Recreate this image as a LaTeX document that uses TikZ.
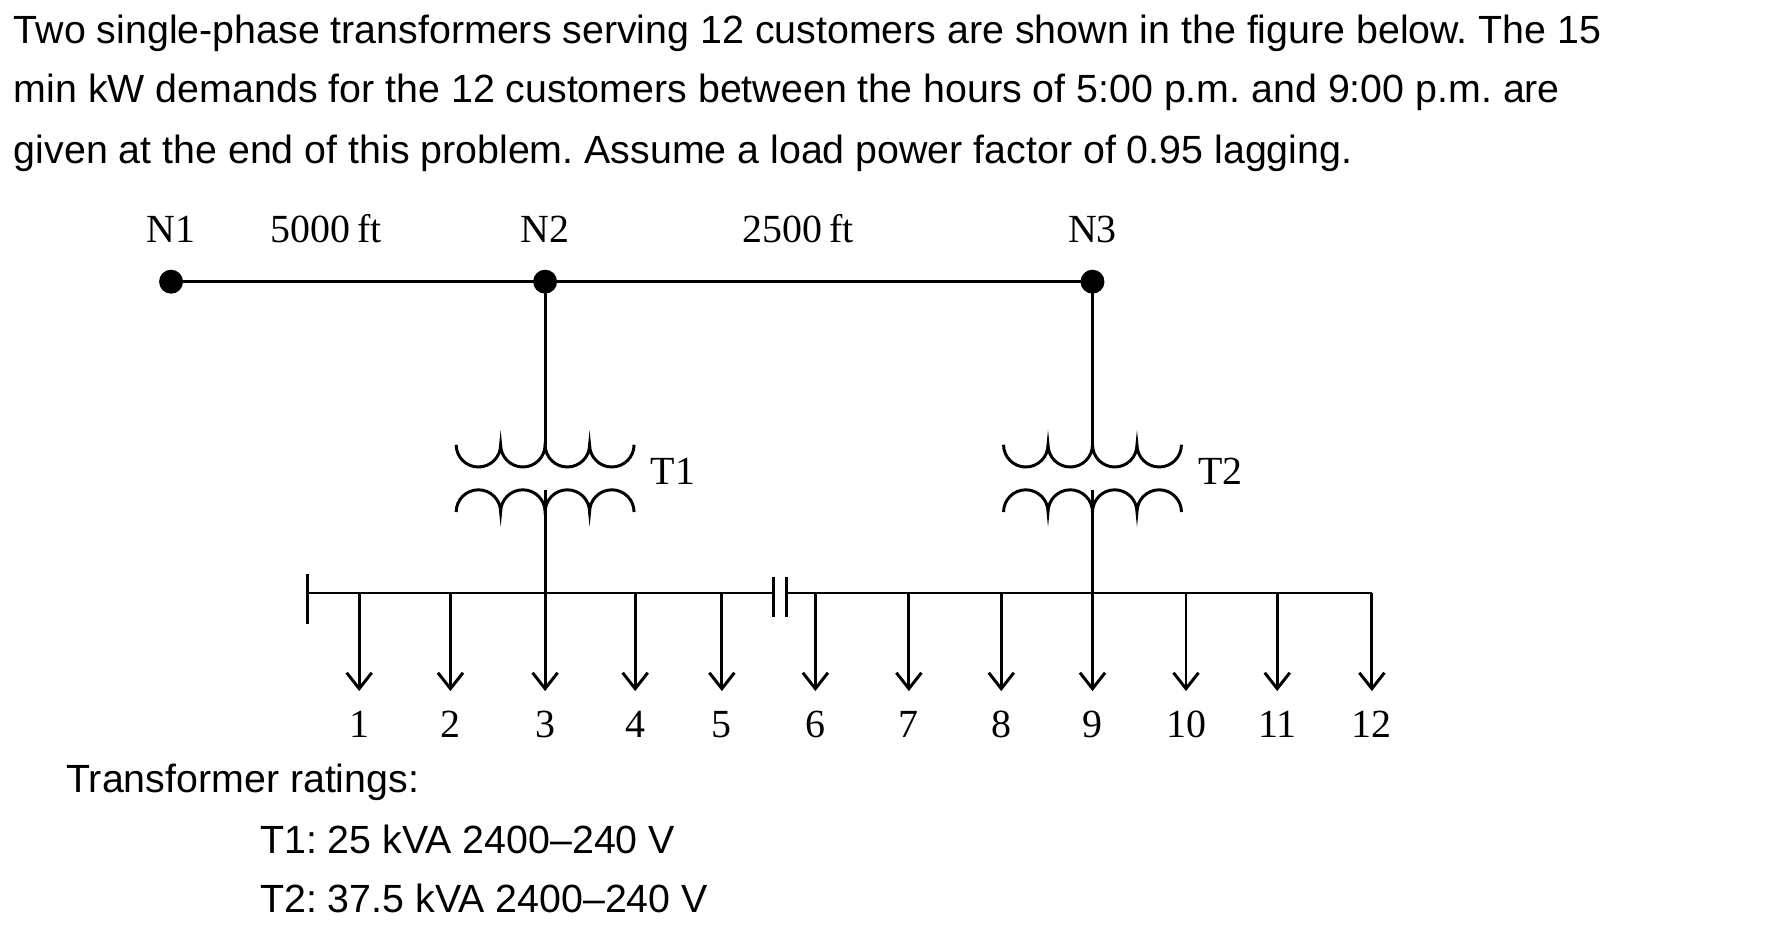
\documentclass[tikz,border=0pt]{standalone}
\usepackage{fontspec}
\setmainfont{Liberation Sans}
\newfontfamily\serifb{Liberation Serif}
\usetikzlibrary{arrows.meta}
\frenchspacing
\begin{document}
\begin{tikzpicture}[x=1pt,y=1pt,
  ln/.style={line width=2.6pt},
  txt/.style={anchor=base west,inner sep=0pt,font=\frenchspacing\fontsize{34.5}{40}\selectfont},
  lab/.style={anchor=base,inner sep=0pt,font=\serifb\fontsize{35}{40}\selectfont},
  dot/.style={circle,fill=black,inner sep=0pt,minimum size=21pt},
  load/.style={ln,-{Straight Barb[length=14pt,width=22pt,line width=2.6pt]}}]
\useasboundingbox (0,0) rectangle (1560,-815);
\node[txt] (l1) at (12,-38) {Two single-phase transformers serving 12 customers are shown in the figure below. The 15};
\node[txt] (l2) at (12,-90) {min kW demands for the 12 customers between the hours of 5:00 p.m. and 9:00 p.m. are};
\node[txt] (l3) at (12,-143) {given at the end of this problem. Assume a load power factor of 0.95 lagging.};
\node[lab] (tN1) at (150,-213) {N1};
\node[lab] (td1) at (286,-213) {5000\,ft};
\node[lab] (tN2) at (478,-213) {N2};
\node[lab] (td2) at (700,-213) {2500\,ft};
\node[lab] (tN3) at (958,-213) {N3};
\node[dot] (N1) at (150,-247) {};
\node[dot] (N2) at (478,-247) {};
\node[dot] (N3) at (958,-247) {};
\draw[ln] (N1.center) -- (N3.center);
% transformers
\foreach \c/\t/\nm in {478/T1/A,958/T2/B}{
  \coordinate (P\nm) at (\c,-390);
  \draw[ln] (\c,-247) -- (P\nm);
  \draw[ln] (\c-78,-390) arc(180:360:19.5) arc(180:360:19.5) arc(180:360:19.5) arc(180:360:19.5);
  \draw[ln] (\c-78,-449) arc(180:0:19.5) arc(180:0:19.5) arc(180:0:19.5) arc(180:0:19.5);
  \node[lab] (lab\nm) at (\c+112,-425) {\t};
}
% bus
\coordinate (busL) at (270,-520);
\coordinate (cap1) at (678,-520);
\coordinate (cap2) at (690,-520);
\coordinate (busR) at (1203,-520);
\draw[ln] (busL) -- (cap1);
\draw[ln] (cap2) -- (busR);
\draw[ln] (270,-503) -- (270,-547);
\draw[ln] (678,-506) -- (678,-541);
\draw[ln] (690,-506) -- (690,-541);
\draw[ln] (478,-429.5) -- (478,-520);
\draw[ln] (958,-429.5) -- (958,-520);
\foreach \x [count=\i] in {315,395,478,557,633,715,797,878,958,1040,1120,1203}{
  \coordinate (b\i) at (\x,-520);
  \coordinate (t\i) at (\x,-606);
  \draw[load] (b\i) -- (t\i);
  \node[lab] (n\i) at (\x,-647) {\i};
}
\node[txt] (r0) at (58,-695) {Transformer ratings:};
\node[txt] (r1) at (228,-748) {T1: 25 kVA 2400--240 V};
\node[txt] (r2) at (228,-800) {T2: 37.5 kVA 2400--240 V};
\end{tikzpicture}
\end{document}
